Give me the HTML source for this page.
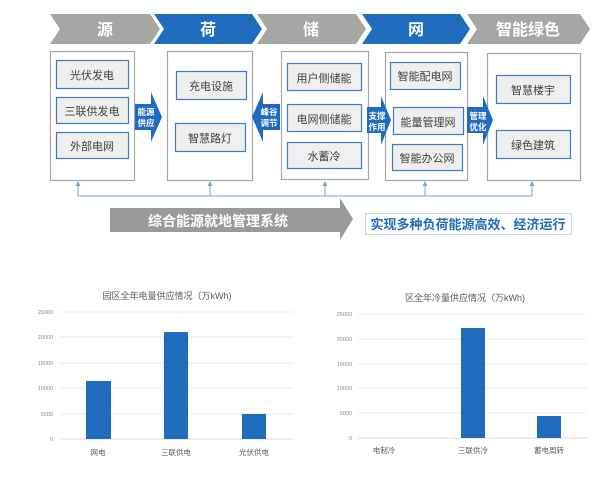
<!DOCTYPE html>
<html><head><meta charset="utf-8"><style>
body{margin:0;width:607px;height:474px;background:#fff;overflow:hidden;font-family:"Liberation Sans","Noto Sans CJK SC",sans-serif}
svg text{font-family:"Liberation Sans","Noto Sans CJK SC",sans-serif}
</style></head><body>
<svg width="607" height="474" viewBox="0 0 607 474" xmlns="http://www.w3.org/2000/svg">
<polygon points="50,14 150,14 160,29 150,44 50,44 60,29" fill="#a6a6a6"/>
<polygon points="154,14 252,14 262,29 252,44 154,44 164,29" fill="#1f6bbd"/>
<polygon points="257,14 356,14 366,29 356,44 257,44 267,29" fill="#a6a6a6"/>
<polygon points="362,14 460,14 470,29 460,44 362,44 372,29" fill="#1f6bbd"/>
<polygon points="467,14 580,14 590,29 580,44 467,44 477,29" fill="#a6a6a6"/>
<g fill="#fff" font-weight="bold" font-size="16" text-anchor="middle">
<text x="105" y="35">源</text><text x="208" y="35">荷</text><text x="311" y="35">储</text><text x="416" y="35">网</text><text x="528" y="35">智能绿色</text>
</g>
<g fill="#fff" stroke="#a6a6a6" stroke-width="1.2">
<rect x="50.5" y="51.5" width="84" height="129"/>
<rect x="167.5" y="51.5" width="85" height="129"/>
<rect x="281.5" y="51.5" width="87" height="128"/>
<rect x="385.5" y="52.5" width="82" height="128"/>
<rect x="487.5" y="53.5" width="93" height="127"/>
</g>
<g fill="#efefef" stroke="#3b7cc4" stroke-width="1.2">
<rect x="56.5" y="60.5" width="72" height="28"/>
<rect x="56.5" y="97.5" width="72" height="26"/>
<rect x="56.5" y="132.5" width="72" height="26"/>
<rect x="176.5" y="71.5" width="70" height="28"/>
<rect x="175.5" y="123.5" width="70" height="28"/>
<rect x="287.5" y="63.5" width="74" height="27"/>
<rect x="287.5" y="104.5" width="74" height="27"/>
<rect x="287.5" y="142.5" width="74" height="26"/>
<rect x="390.5" y="62.5" width="70" height="27"/>
<rect x="393.5" y="107.5" width="70" height="27"/>
<rect x="392.5" y="144.5" width="70" height="26"/>
<rect x="496.5" y="75.5" width="74" height="28"/>
<rect x="496.5" y="130.5" width="74" height="28"/>
</g>
<g fill="#404040" font-size="11" text-anchor="middle">
<text x="92" y="79">光伏发电</text><text x="92" y="115">三联供发电</text><text x="92" y="150">外部电网</text>
<text x="211" y="90">充电设施</text><text x="210" y="142">智慧路灯</text>
<text x="324" y="82">用户侧储能</text><text x="324" y="123">电网侧储能</text><text x="324" y="160">水蓄冷</text>
<text x="425" y="80">智能配电网</text><text x="428" y="126">能量管理网</text><text x="427" y="162">智能办公网</text>
<text x="533" y="94">智慧楼宇</text><text x="533" y="149">绿色建筑</text>
</g>
<g fill="#1f6bbd">
<polygon points="135,104 151,104 151,92 162,117 151,142 151,130 135,130"/>
<polygon points="280,104 263,104 263,92 252,117 263,142 263,130 280,130"/>
<polygon points="367,107 381,107 381,96 391,120 381,145 381,133 367,133"/>
<polygon points="467,107 483,107 483,96 493,120 483,145 483,133 467,133"/>
</g>
<g fill="#fff" font-size="8.5" font-weight="bold" text-anchor="middle">
<text x="146" y="115">能源</text><text x="146" y="126">供应</text>
<text x="269" y="115">峰谷</text><text x="269" y="126">调节</text>
<text x="377" y="119">支撑</text><text x="377" y="130">作用</text>
<text x="478" y="119">管理</text><text x="478" y="130">优化</text>
</g>
<g stroke="#7fa3cc" stroke-width="1" fill="none">
<polyline points="78,183 78,196 532,196 532,183"/>
<line x1="210" y1="196" x2="210" y2="183"/><line x1="325" y1="196" x2="325" y2="183"/><line x1="425" y1="196" x2="425" y2="183"/>
</g>
<g fill="#7fa3cc">
<polygon points="78,181 75.5,186 80.5,186"/><polygon points="210,181 207.5,186 212.5,186"/><polygon points="325,181 322.5,186 327.5,186"/><polygon points="425,181 422.5,186 427.5,186"/><polygon points="532,181 529.5,186 534.5,186"/>
</g>
<polygon points="110,208 340,208 340,198 353,219 340,240 340,232 110,232" fill="#9a9a9a"/>
<text x="218" y="226" fill="#fff" font-size="14" font-weight="bold" text-anchor="middle">综合能源就地管理系统</text>
<rect x="365.5" y="213.5" width="206" height="21" fill="#fff" stroke="#c5d8ee"/>
<text x="468" y="229" fill="#1f6bbd" font-size="13" font-weight="bold" text-anchor="middle">实现多种负荷能源高效、经济运行</text>
<text x="167" y="299" fill="#595959" font-size="9" text-anchor="middle">园区全年电量供应情况（万kWh)</text>
<g stroke="#e4e4e4" stroke-width="0.8">
<line x1="60" y1="312" x2="293" y2="312"/><line x1="60" y1="337" x2="293" y2="337"/><line x1="60" y1="363" x2="293" y2="363"/><line x1="60" y1="388" x2="293" y2="388"/><line x1="60" y1="414" x2="293" y2="414"/><line x1="60" y1="439" x2="293" y2="439" stroke="#cfcfcf"/>
</g>
<g fill="#8a8a8a" font-size="5.5" text-anchor="end">
<text x="53" y="314">25000</text><text x="53" y="339">20000</text><text x="53" y="365">15000</text><text x="53" y="390">10000</text><text x="53" y="416">5000</text><text x="53" y="441">0</text>
</g>
<g fill="#1f6bbd">
<rect x="86" y="381" width="25" height="58"/><rect x="164" y="332" width="24" height="107"/><rect x="242" y="414" width="24" height="25"/>
</g>
<g fill="#595959" font-size="7.5" text-anchor="middle">
<text x="98" y="455">网电</text><text x="176" y="455">三联供电</text><text x="254" y="455">光伏供电</text>
</g>
<text x="465" y="301" fill="#595959" font-size="9" text-anchor="middle">区全年冷量供应情况（万kWh)</text>
<g stroke="#e4e4e4" stroke-width="0.8">
<line x1="358" y1="314" x2="587" y2="314"/><line x1="358" y1="339" x2="587" y2="339"/><line x1="358" y1="364" x2="587" y2="364"/><line x1="358" y1="388" x2="587" y2="388"/><line x1="358" y1="413" x2="587" y2="413"/><line x1="358" y1="438" x2="587" y2="438" stroke="#cfcfcf"/>
</g>
<g fill="#8a8a8a" font-size="5.5" text-anchor="end">
<text x="352" y="316">25000</text><text x="352" y="341">20000</text><text x="352" y="366">15000</text><text x="352" y="390">10000</text><text x="352" y="415">5000</text><text x="352" y="440">0</text>
</g>
<g fill="#1f6bbd">
<rect x="461" y="328" width="24" height="110"/><rect x="537" y="416" width="24" height="22"/>
</g>
<g fill="#595959" font-size="7.5" text-anchor="middle">
<text x="384" y="453">电制冷</text><text x="473" y="453">三联供冷</text><text x="549" y="453">蓄电周转</text>
</g>
</svg>
</body></html>
